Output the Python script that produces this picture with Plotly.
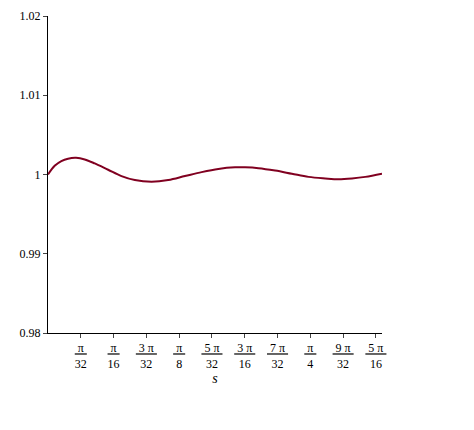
import math
import plotly.graph_objects as go

# curve
s_vals = [0.0, 0.02, 0.04, 0.06, 0.084, 0.11, 0.14, 0.18, 0.22, 0.26, 0.31, 0.36, 0.41, 0.46, 0.51, 0.56, 0.59, 0.63, 0.68, 0.73, 0.78, 0.83, 0.87, 0.91, 0.95, 1.0]
y_vals = [1.0, 1.0011, 1.0017, 1.0020, 1.0021, 1.0019, 1.0014, 1.0006, 0.9998, 0.9993, 0.9991, 0.9993, 0.9998, 1.0003, 1.0007, 1.0009, 1.0009, 1.0008, 1.0005, 1.0001, 0.9997, 0.9995, 0.9994, 0.9995, 0.9997, 1.0001]

tick_nums = [1, 2, 3, 4, 5, 6, 7, 8, 9, 10]
tick_tops = ["π", "π", "3 π", "π", "5 π", "3 π", "7 π", "π", "9 π", "5 π"]
tick_bottoms = ["32", "16", "32", "8", "32", "16", "32", "4", "32", "16"]
tick_labels = ["<u>&nbsp;%s&nbsp;</u><br>%s" % (a, b) for a, b in zip(tick_tops, tick_bottoms)]
y_ticks = [0.98, 0.99, 1, 1.01, 1.02]
y_labels = ["0.98", "0.99", "1", "1.01", "1.02"]

fig = go.Figure()
fig.add_trace(go.Scatter(x=s_vals, y=y_vals, mode="lines", line=dict(color="#800020", width=2, shape="spline"), showlegend=False))

fig.update_layout(
    width=474, height=430, plot_bgcolor="white", paper_bgcolor="white",
    margin=dict(l=40, r=100, t=8, b=105),
    font=dict(family="Liberation Serif", size=12, color="black"),
    xaxis=dict(range=[0, 1.0], tickvals=[n * math.pi / 32 for n in tick_nums], ticktext=tick_labels,
               showgrid=False, zeroline=False, showline=True, linecolor="black", ticks="outside", ticklen=4,
               automargin=False, title=dict(text="<i>s</i>", standoff=2)),
    yaxis=dict(range=[0.98, 1.02], tickvals=y_ticks, ticktext=y_labels, showgrid=False, zeroline=False,
               showline=True, linecolor="black", ticks="outside", ticklen=4, automargin=False),
)

fig.write_html("out.html")
